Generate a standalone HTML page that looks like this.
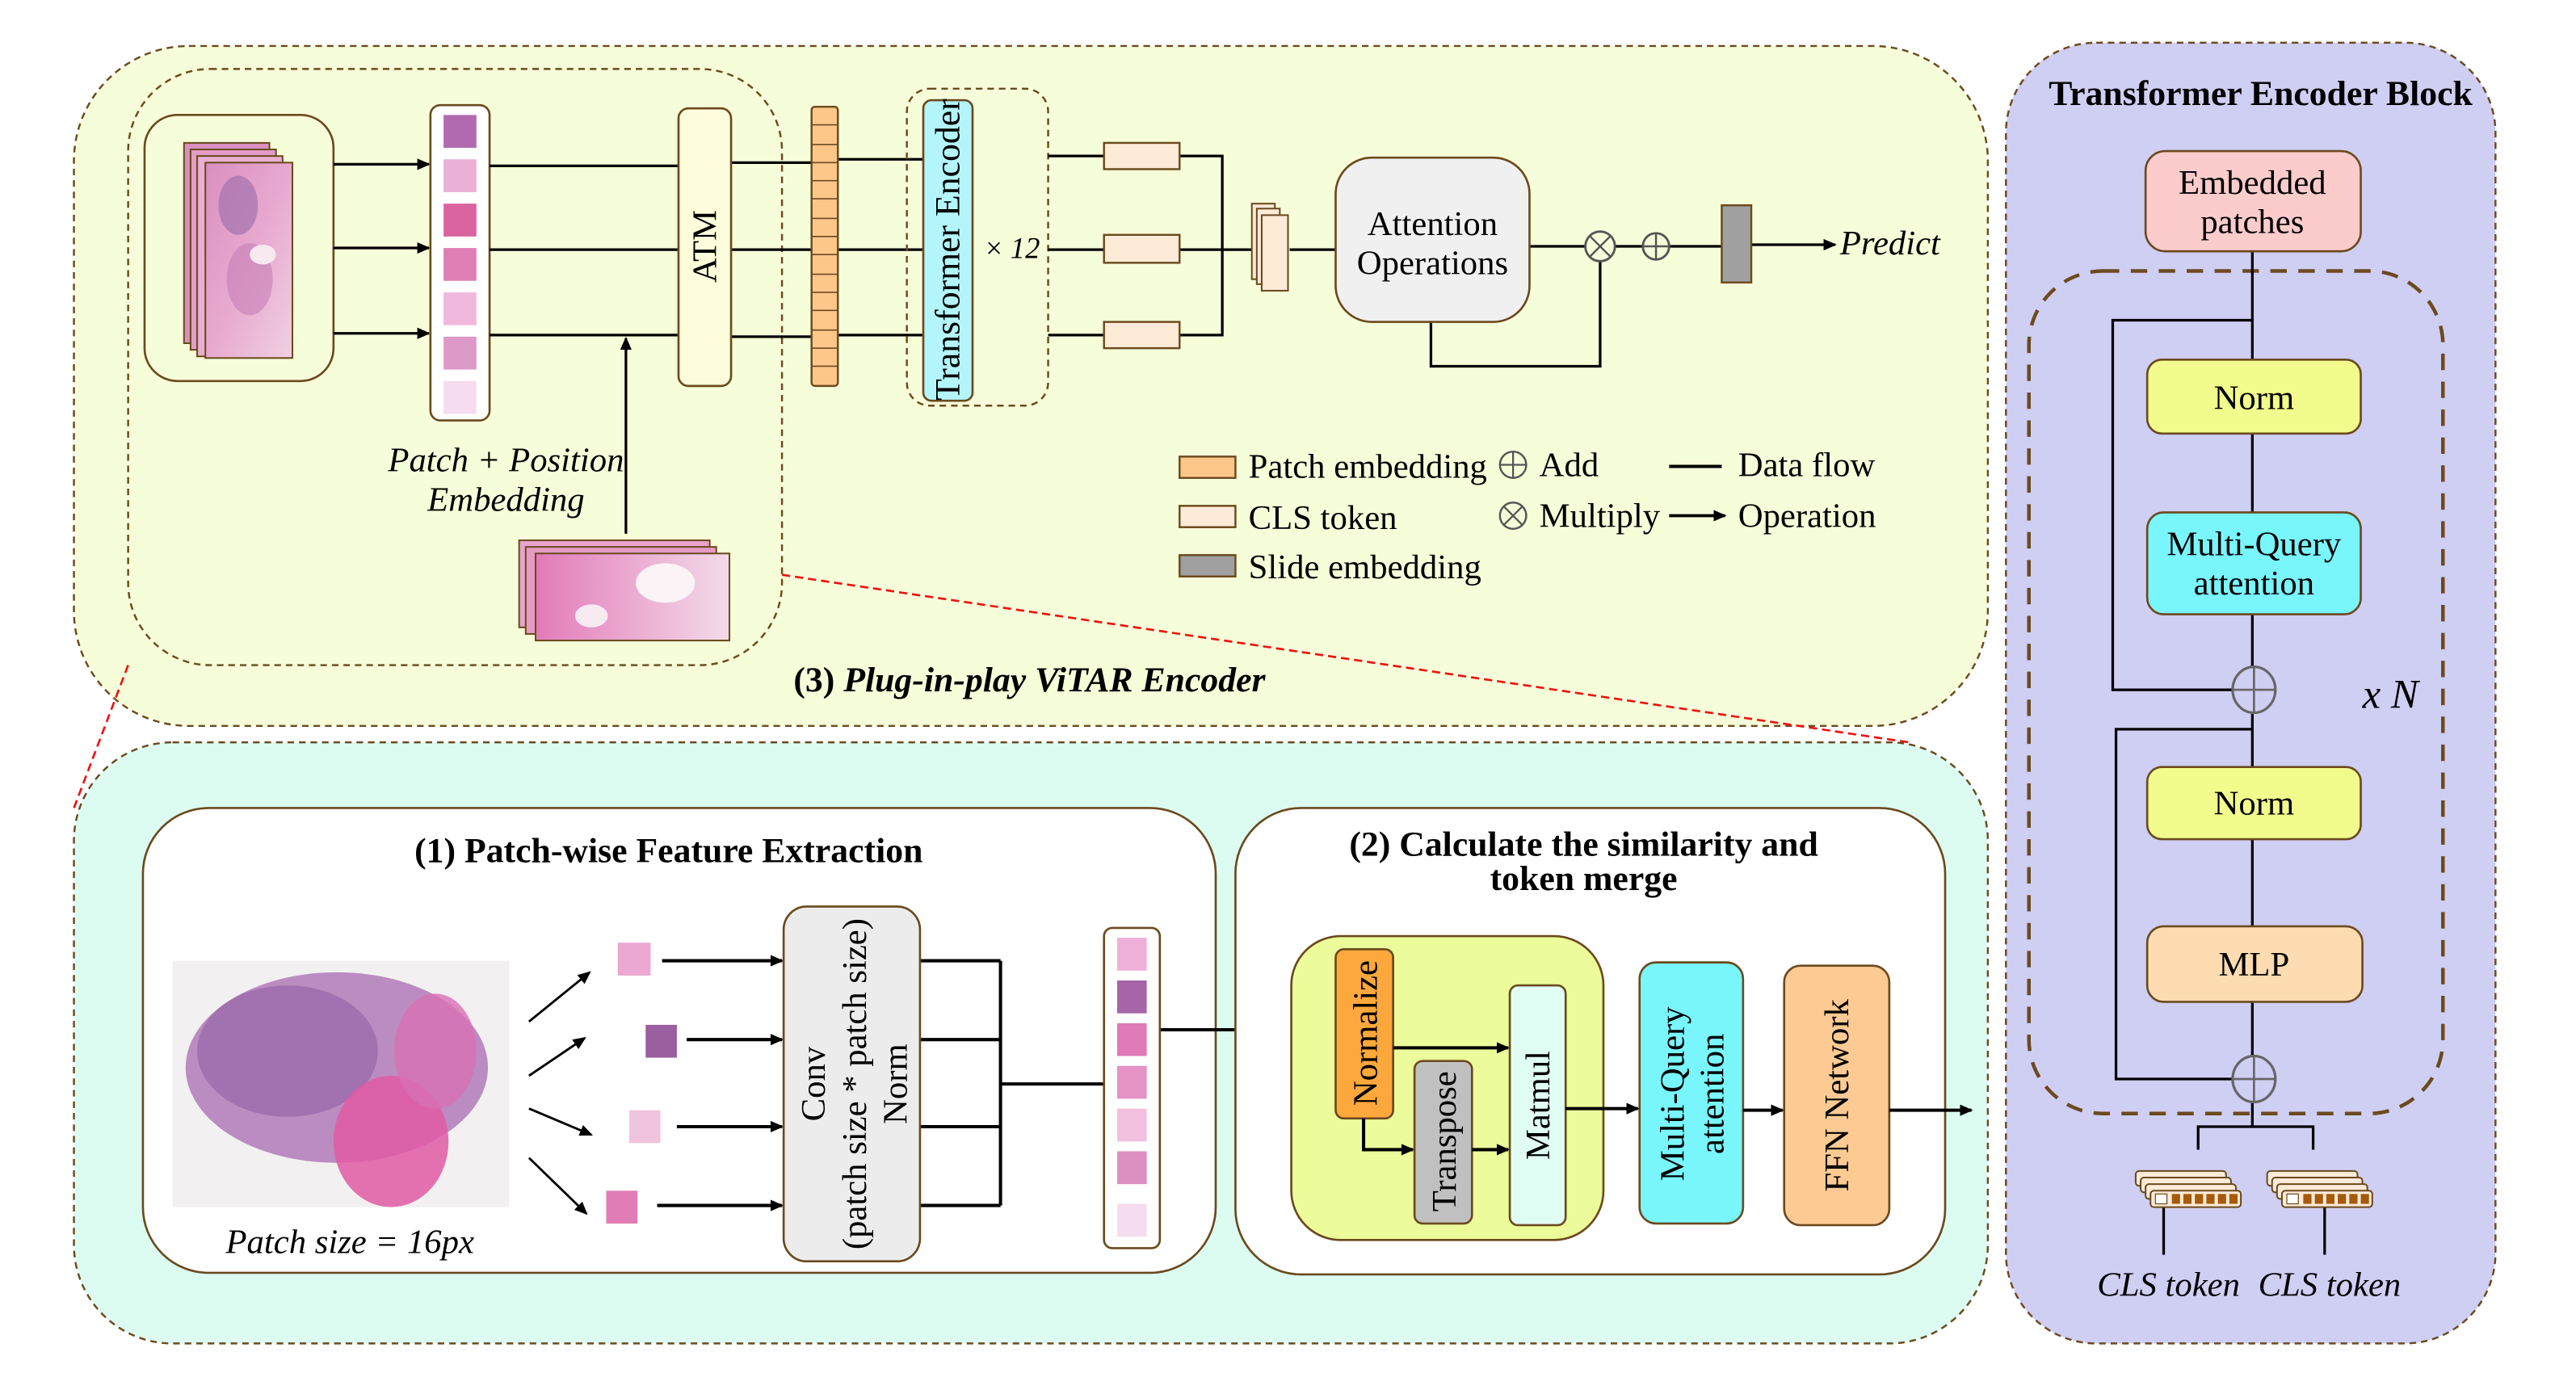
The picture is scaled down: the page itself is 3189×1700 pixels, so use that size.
<!DOCTYPE html>
<html><head><meta charset="utf-8"><style>
html,body{margin:0;padding:0;background:#fff;}
svg{display:block;}
text{font-family:"Liberation Serif",serif;fill:#000;}
</style></head><body>
<svg width="3189" height="1700" viewBox="0 0 1568 836" preserveAspectRatio="none" xmlns="http://www.w3.org/2000/svg">
<defs>
<marker id="ar" markerWidth="8" markerHeight="8" refX="7" refY="4" orient="auto" markerUnits="userSpaceOnUse"><path d="M0,0.5 L8,4 L0,7.5 z" fill="#000"/></marker>
<linearGradient id="pk" x1="0" y1="0" x2="1" y2="1"><stop offset="0" stop-color="#d98fc0"/><stop offset="0.5" stop-color="#e7a9cf"/><stop offset="1" stop-color="#f0d0e2"/></linearGradient>
<linearGradient id="pk2" x1="0" y1="0" x2="1" y2="0"><stop offset="0" stop-color="#e27bb8"/><stop offset="1" stop-color="#f3dbe9"/></linearGradient>
</defs>

<rect x="45" y="28" width="1165" height="414" rx="70" fill="#f6fdd9" stroke="#6b4a1e" stroke-width="1.2" stroke-dasharray="4,3"/>
<rect x="78" y="42" width="398" height="363" rx="50" fill="none" stroke="#6b4a1e" stroke-width="1.2" stroke-dasharray="4,3"/>

<line x1="476" y1="350" x2="1162" y2="452" stroke="#ee1111" stroke-width="1.3" stroke-dasharray="5,3"/>
<line x1="78" y1="405" x2="45" y2="492" stroke="#ee1111" stroke-width="1.3" stroke-dasharray="5,3"/>

<rect x="88" y="70" width="115" height="162" rx="20" fill="#f6fdd9" stroke="#6b4a1e" stroke-width="1.3"/>
<rect x="112" y="87" width="52" height="122" fill="#d98fc0" stroke="#6b4a1e" stroke-width="1"/>
<rect x="116" y="91" width="52" height="122" fill="#e39dc8" stroke="#6b4a1e" stroke-width="1"/>
<rect x="120" y="95" width="52" height="122" fill="#e8b0d2" stroke="#6b4a1e" stroke-width="1"/>
<rect x="125" y="99" width="53" height="119" fill="url(#pk)" stroke="#6b4a1e" stroke-width="1"/>
<ellipse cx="145" cy="125" rx="12" ry="18" fill="#9a6aa8" opacity="0.6"/>
<ellipse cx="152" cy="170" rx="14" ry="22" fill="#c77fb8" opacity="0.6"/>
<ellipse cx="160" cy="155" rx="8" ry="6" fill="#f8e8f0"/>

<g stroke="#000" stroke-width="1.6" fill="none">
<line x1="203" y1="100" x2="261" y2="100" marker-end="url(#ar)"/>
<line x1="203" y1="151" x2="261" y2="151" marker-end="url(#ar)"/>
<line x1="203" y1="203" x2="261" y2="203" marker-end="url(#ar)"/>
</g>

<rect x="262" y="64" width="36" height="192" rx="6" fill="#fff" stroke="#6b4a1e" stroke-width="1.3"/>
<rect x="270" y="70" width="20" height="20" fill="#b16ab0"/>
<rect x="270" y="97" width="20" height="20" fill="#eab0d6"/>
<rect x="270" y="124" width="20" height="20" fill="#d9649f"/>
<rect x="270" y="151" width="20" height="20" fill="#e07fb5"/>
<rect x="270" y="178" width="20" height="20" fill="#f0b8dc"/>
<rect x="270" y="205" width="20" height="20" fill="#dd99c8"/>
<rect x="270" y="232" width="20" height="20" fill="#f5dcee"/>

<g stroke="#000" stroke-width="1.6" fill="none">
<line x1="298" y1="101" x2="413" y2="101"/>
<line x1="298" y1="152" x2="413" y2="152"/>
<line x1="298" y1="204" x2="413" y2="204"/>
<line x1="381" y1="325" x2="381" y2="206" marker-end="url(#ar)"/>
<line x1="445" y1="99" x2="494" y2="99"/>
<line x1="445" y1="152" x2="494" y2="152"/>
<line x1="445" y1="205" x2="494" y2="205"/>
<line x1="510" y1="97" x2="562" y2="97"/>
<line x1="510" y1="152" x2="562" y2="152"/>
<line x1="510" y1="204" x2="562" y2="204"/>
</g>
<text x="308" y="287" font-size="21" font-style="italic" text-anchor="middle">Patch + Position</text>
<text x="308" y="311" font-size="21" font-style="italic" text-anchor="middle">Embedding</text>

<rect x="316" y="329" width="116" height="53" fill="#e9a3cc" stroke="#6b4a1e" stroke-width="1"/>
<rect x="320" y="333" width="116" height="53" fill="#e59bc6" stroke="#6b4a1e" stroke-width="1"/>
<rect x="326" y="337" width="118" height="53" fill="url(#pk2)" stroke="#6b4a1e" stroke-width="1"/>
<ellipse cx="405" cy="355" rx="18" ry="12" fill="#fbf3f6"/>
<ellipse cx="360" cy="375" rx="10" ry="7" fill="#f8eaf1"/>

<rect x="413" y="66" width="32" height="169" rx="6" fill="#fdfddc" stroke="#6b4a1e" stroke-width="1.3"/>
<text transform="translate(436,150) rotate(-90)" font-size="21" text-anchor="middle">ATM</text>

<rect x="494" y="65" width="16" height="170" rx="2" fill="#fdc78a" stroke="#6b4a1e" stroke-width="1.2"/>
<g stroke="#6b4a1e" stroke-width="0.8">
<line x1="494" y1="76" x2="510" y2="76"/><line x1="494" y1="88" x2="510" y2="88"/><line x1="494" y1="99" x2="510" y2="99"/><line x1="494" y1="110" x2="510" y2="110"/><line x1="494" y1="121" x2="510" y2="121"/><line x1="494" y1="133" x2="510" y2="133"/><line x1="494" y1="144" x2="510" y2="144"/><line x1="494" y1="155" x2="510" y2="155"/><line x1="494" y1="167" x2="510" y2="167"/><line x1="494" y1="178" x2="510" y2="178"/><line x1="494" y1="189" x2="510" y2="189"/><line x1="494" y1="201" x2="510" y2="201"/><line x1="494" y1="212" x2="510" y2="212"/><line x1="494" y1="223" x2="510" y2="223"/>
</g>

<rect x="552" y="54" width="86" height="193" rx="14" fill="none" stroke="#6b4a1e" stroke-width="1.2" stroke-dasharray="4,3"/>
<rect x="562" y="61" width="30" height="183" rx="5" fill="#b3f5fb" stroke="#6b4a1e" stroke-width="1.3"/>
<text transform="translate(584,152) rotate(-90)" font-size="21.5" text-anchor="middle">Transformer Encoder</text>
<text x="600" y="157" font-size="18">×</text><text x="615" y="157" font-size="18" font-style="italic">12</text>

<g stroke="#000" stroke-width="1.6" fill="none">
<line x1="638" y1="95" x2="672" y2="95"/>
<line x1="638" y1="152" x2="672" y2="152"/>
<line x1="638" y1="204" x2="672" y2="204"/>
<polyline points="718,95 744,95 744,204 718,204"/>
<line x1="718" y1="152" x2="762" y2="152"/>
<line x1="785" y1="152" x2="813" y2="152"/>
<line x1="931" y1="150" x2="965" y2="150"/>
<line x1="983" y1="150" x2="1000" y2="150"/>
<line x1="1016" y1="150" x2="1048" y2="150"/>
<line x1="1066" y1="149" x2="1117" y2="149" marker-end="url(#ar)"/>
<polyline points="871,196 871,223 974,223 974,159"/>
</g>
<rect x="672" y="87" width="46" height="16" fill="#fdebd8" stroke="#6b4a1e" stroke-width="1.2"/>
<rect x="672" y="143" width="46" height="17" fill="#fdebd8" stroke="#6b4a1e" stroke-width="1.2"/>
<rect x="672" y="196" width="46" height="16" fill="#fdebd8" stroke="#6b4a1e" stroke-width="1.2"/>

<rect x="762" y="124" width="14" height="46" fill="#fdebd8" stroke="#6b4a1e" stroke-width="1"/>
<rect x="765" y="127" width="14" height="46" fill="#fdebd8" stroke="#6b4a1e" stroke-width="1"/>
<rect x="768" y="131" width="16" height="46" fill="#fdebd8" stroke="#6b4a1e" stroke-width="1"/>

<rect x="813" y="96" width="118" height="100" rx="22" fill="#f0f0f0" stroke="#6b4a1e" stroke-width="1.3"/>
<text x="872" y="143" font-size="21" text-anchor="middle">Attention</text>
<text x="872" y="167" font-size="21" text-anchor="middle">Operations</text>

<circle cx="974" cy="150" r="9" fill="#f6fdd9" stroke="#555" stroke-width="1.4"/>
<path d="M968,144 L980,156 M980,144 L968,156" stroke="#555" stroke-width="1.2"/>
<circle cx="1008" cy="150" r="8" fill="#f6fdd9" stroke="#555" stroke-width="1.4"/>
<path d="M1000,150 H1016 M1008,142 V158" stroke="#555" stroke-width="1.2"/>
<rect x="1048" y="125" width="18" height="47" fill="#a0a0a0" stroke="#6b4a1e" stroke-width="1.2"/>
<text x="1120" y="155" font-size="21" font-style="italic">Predict</text>

<rect x="718" y="278" width="34" height="13" fill="#fdc78a" stroke="#6b4a1e" stroke-width="1.2"/>
<text x="760" y="291" font-size="21">Patch embedding</text>
<rect x="718" y="308" width="34" height="13" fill="#fdebd8" stroke="#6b4a1e" stroke-width="1.2"/>
<text x="760" y="322" font-size="21">CLS token</text>
<rect x="718" y="338" width="34" height="13" fill="#a0a0a0" stroke="#6b4a1e" stroke-width="1.2"/>
<text x="760" y="352" font-size="21">Slide embedding</text>
<circle cx="921" cy="283" r="8" fill="none" stroke="#555" stroke-width="1.2"/>
<path d="M913,283 H929 M921,275 V291" stroke="#555" stroke-width="1.1"/>
<text x="937" y="290" font-size="21">Add</text>
<circle cx="921" cy="314" r="8" fill="none" stroke="#555" stroke-width="1.2"/>
<path d="M915,308 L927,320 M927,308 L915,320" stroke="#555" stroke-width="1.1"/>
<text x="937" y="321" font-size="21">Multiply</text>
<line x1="1016" y1="284" x2="1048" y2="284" stroke="#000" stroke-width="2"/>
<text x="1058" y="290" font-size="21">Data flow</text>
<line x1="1016" y1="314" x2="1050" y2="314" stroke="#000" stroke-width="1.8" marker-end="url(#ar)"/>
<text x="1058" y="321" font-size="21">Operation</text>

<text x="483" y="421" font-size="21.5" font-weight="bold">(3)  <tspan font-style="italic">Plug-in-play ViTAR Encoder</tspan></text>

<rect x="45" y="452" width="1165" height="366" rx="60" fill="#dcfcf1" stroke="#6b4a1e" stroke-width="1.2" stroke-dasharray="4,3"/>

<rect x="87" y="492" width="653" height="283" rx="40" fill="#fff" stroke="#6b4a1e" stroke-width="1.3"/>
<text x="407" y="525" font-size="21.5" font-weight="bold" text-anchor="middle">(1) Patch-wise Feature Extraction</text>
<rect x="105" y="585" width="205" height="150" fill="#f2f0f0"/>
<ellipse cx="205" cy="650" rx="92" ry="58" fill="#b07ab8" opacity="0.85"/>
<ellipse cx="175" cy="640" rx="55" ry="40" fill="#9c6aaa" opacity="0.8"/>
<ellipse cx="238" cy="695" rx="35" ry="40" fill="#e05ba5" opacity="0.85"/>
<ellipse cx="265" cy="640" rx="25" ry="35" fill="#d870b4" opacity="0.8"/>
<text x="213" y="763" font-size="21" font-style="italic" text-anchor="middle">Patch size = 16px</text>

<g stroke="#000" stroke-width="1.4" fill="none">
<line x1="322" y1="622" x2="359" y2="592" marker-end="url(#ar)"/>
<line x1="322" y1="655" x2="356" y2="632" marker-end="url(#ar)"/>
<line x1="322" y1="675" x2="360" y2="691" marker-end="url(#ar)"/>
<line x1="322" y1="705" x2="357" y2="739" marker-end="url(#ar)"/>
</g>
<rect x="376" y="574" width="20" height="20" fill="#eaa8d2"/>
<rect x="393" y="624" width="19" height="20" fill="#9a5f9e"/>
<rect x="383" y="676" width="19" height="20" fill="#f0c4dc"/>
<rect x="369" y="725" width="19" height="20" fill="#e17cb6"/>

<g stroke="#000" stroke-width="2" fill="none">
<line x1="403" y1="585" x2="476" y2="585" marker-end="url(#ar)"/>
<line x1="418" y1="633" x2="476" y2="633" marker-end="url(#ar)"/>
<line x1="412" y1="686" x2="476" y2="686" marker-end="url(#ar)"/>
<line x1="400" y1="734" x2="476" y2="734" marker-end="url(#ar)"/>
<line x1="560" y1="585" x2="609" y2="585"/>
<line x1="560" y1="633" x2="609" y2="633"/>
<line x1="560" y1="686" x2="609" y2="686"/>
<line x1="560" y1="734" x2="609" y2="734"/>
<line x1="609" y1="585" x2="609" y2="734"/>
<line x1="609" y1="660" x2="672" y2="660"/>
<line x1="706" y1="627" x2="812" y2="627" marker-end="url(#ar)"/>
</g>
<rect x="477" y="552" width="83" height="216" rx="14" fill="#ececec" stroke="#6b4a1e" stroke-width="1.3"/>
<text transform="translate(502,660) rotate(-90)" font-size="21" text-anchor="middle">Conv</text>
<text transform="translate(527,660) rotate(-90)" font-size="21" text-anchor="middle">(patch size * patch size)</text>
<text transform="translate(552,660) rotate(-90)" font-size="21" text-anchor="middle">Norm</text>

<rect x="672" y="565" width="34" height="195" rx="5" fill="#fff" stroke="#6b4a1e" stroke-width="1.3"/>
<rect x="680" y="571" width="18" height="20" fill="#eeb0d8"/>
<rect x="680" y="597" width="18" height="20" fill="#a665a8"/>
<rect x="680" y="623" width="18" height="20" fill="#e07ab8"/>
<rect x="680" y="649" width="18" height="20" fill="#e592c4"/>
<rect x="680" y="675" width="18" height="20" fill="#f0c0de"/>
<rect x="680" y="701" width="18" height="20" fill="#de8fc2"/>
<rect x="680" y="733" width="18" height="20" fill="#f5dcee"/>

<rect x="752" y="492" width="432" height="284" rx="40" fill="#fff" stroke="#6b4a1e" stroke-width="1.3"/>
<text x="964" y="521" font-size="21.5" font-weight="bold" text-anchor="middle">(2) Calculate the similarity and</text>
<text x="964" y="542" font-size="21.5" font-weight="bold" text-anchor="middle">token merge</text>
<rect x="786" y="570" width="190" height="185" rx="30" fill="#ecfc9a" stroke="#6b4a1e" stroke-width="1.3"/>
<rect x="813" y="578" width="35" height="103" rx="5" fill="#fca83c" stroke="#6b4a1e" stroke-width="1.3"/>
<text transform="translate(838,629) rotate(-90)" font-size="21" text-anchor="middle">Normalize</text>
<rect x="861" y="646" width="35" height="99" rx="5" fill="#c0c0c0" stroke="#6b4a1e" stroke-width="1.3"/>
<text transform="translate(886,695) rotate(-90)" font-size="21" text-anchor="middle">Transpose</text>
<rect x="919" y="600" width="34" height="146" rx="5" fill="#e0fdf4" stroke="#6b4a1e" stroke-width="1.3"/>
<text transform="translate(943,673) rotate(-90)" font-size="21" text-anchor="middle">Matmul</text>
<rect x="998" y="586" width="63" height="159" rx="10" fill="#79f5fc" stroke="#6b4a1e" stroke-width="1.3"/>
<text transform="translate(1025,666) rotate(-90)" font-size="21" text-anchor="middle">Multi-Query</text>
<text transform="translate(1049,666) rotate(-90)" font-size="21" text-anchor="middle">attention</text>
<rect x="1086" y="588" width="64" height="158" rx="10" fill="#fdca94" stroke="#6b4a1e" stroke-width="1.3"/>
<text transform="translate(1125,667) rotate(-90)" font-size="21" text-anchor="middle">FFN Network</text>
<g stroke="#000" stroke-width="2" fill="none">
<line x1="848" y1="638" x2="918" y2="638" marker-end="url(#ar)"/>
<polyline points="830,681 830,700 860,700" marker-end="url(#ar)"/>
<line x1="896" y1="700" x2="918" y2="700" marker-end="url(#ar)"/>
<line x1="953" y1="675" x2="997" y2="675" marker-end="url(#ar)"/>
<line x1="1061" y1="676" x2="1085" y2="676" marker-end="url(#ar)"/>
<line x1="1150" y1="676" x2="1200" y2="676" marker-end="url(#ar)"/>
</g>

<rect x="1221" y="26" width="298" height="792" rx="55" fill="#cfcef3" stroke="#6b4a1e" stroke-width="1.2" stroke-dasharray="4,3"/>
<text x="1376" y="64" font-size="21.5" font-weight="bold" text-anchor="middle">Transformer Encoder Block</text>
<rect x="1235" y="165" width="252" height="513" rx="45" fill="none" stroke="#6b4a1e" stroke-width="2.2" stroke-dasharray="10,7"/>
<g stroke="#000" stroke-width="1.6" fill="none">
<line x1="1371" y1="153" x2="1371" y2="686"/>
<polyline points="1371,195 1286,195 1286,420 1360,420"/>
<polyline points="1371,444 1288,444 1288,657 1360,657"/>
<polyline points="1338,700 1338,686 1408,686 1408,700"/>
<line x1="1317" y1="734" x2="1317" y2="764"/>
<line x1="1415" y1="734" x2="1415" y2="764"/>
</g>
<rect x="1306" y="92" width="131" height="61" rx="12" fill="#fccccc" stroke="#6b4a1e" stroke-width="1.3"/>
<text x="1371" y="118" font-size="21" text-anchor="middle">Embedded</text>
<text x="1371" y="142" font-size="21" text-anchor="middle">patches</text>
<rect x="1307" y="219" width="130" height="45" rx="9" fill="#f2fc8c" stroke="#6b4a1e" stroke-width="1.3"/>
<text x="1372" y="249" font-size="21" text-anchor="middle">Norm</text>
<rect x="1307" y="312" width="130" height="62" rx="10" fill="#79f5fc" stroke="#6b4a1e" stroke-width="1.3"/>
<text x="1372" y="338" font-size="21" text-anchor="middle">Multi-Query</text>
<text x="1372" y="362" font-size="21" text-anchor="middle">attention</text>
<ellipse cx="1372" cy="420" rx="13" ry="14" fill="#cfcef3" stroke="#666" stroke-width="1.6"/>
<path d="M1359,420 H1385 M1372,406 V434" stroke="#666" stroke-width="1.3"/>
<text x="1438" y="431" font-size="25" font-style="italic">x N</text>
<rect x="1307" y="467" width="130" height="44" rx="9" fill="#f2fc8c" stroke="#6b4a1e" stroke-width="1.3"/>
<text x="1372" y="496" font-size="21" text-anchor="middle">Norm</text>
<rect x="1307" y="564" width="131" height="46" rx="10" fill="#fcdcb0" stroke="#6b4a1e" stroke-width="1.3"/>
<text x="1372" y="594" font-size="21" text-anchor="middle">MLP</text>
<ellipse cx="1372" cy="657" rx="13" ry="14" fill="#cfcef3" stroke="#666" stroke-width="1.6"/>
<path d="M1359,657 H1385 M1372,643 V671" stroke="#666" stroke-width="1.3"/>

<g stroke="#6b4a1e" stroke-width="1" fill="#fdebd8">
<rect x="1300" y="713" width="55" height="9" rx="2"/><rect x="1303" y="717" width="55" height="9" rx="2"/><rect x="1306" y="721" width="55" height="9" rx="2"/><rect x="1309" y="725" width="55" height="10" rx="2"/>
<rect x="1380" y="713" width="55" height="9" rx="2"/><rect x="1383" y="717" width="55" height="9" rx="2"/><rect x="1386" y="721" width="55" height="9" rx="2"/><rect x="1389" y="725" width="55" height="10" rx="2"/>
</g>
<g fill="#a65a0a">
<rect x="1322" y="727" width="5" height="6"/><rect x="1329" y="727" width="5" height="6"/><rect x="1336" y="727" width="5" height="6"/><rect x="1343" y="727" width="5" height="6"/><rect x="1350" y="727" width="5" height="6"/><rect x="1357" y="727" width="5" height="6"/>
<rect x="1402" y="727" width="5" height="6"/><rect x="1409" y="727" width="5" height="6"/><rect x="1416" y="727" width="5" height="6"/><rect x="1423" y="727" width="5" height="6"/><rect x="1430" y="727" width="5" height="6"/><rect x="1437" y="727" width="5" height="6"/>
</g>
<rect x="1312" y="727" width="7" height="6" fill="#fff" stroke="#6b4a1e" stroke-width="0.6"/>
<rect x="1392" y="727" width="7" height="6" fill="#fff" stroke="#6b4a1e" stroke-width="0.6"/>
<text x="1320" y="789" font-size="21" font-style="italic" text-anchor="middle">CLS token</text>
<text x="1418" y="789" font-size="21" font-style="italic" text-anchor="middle">CLS token</text>
</svg>
</body></html>
